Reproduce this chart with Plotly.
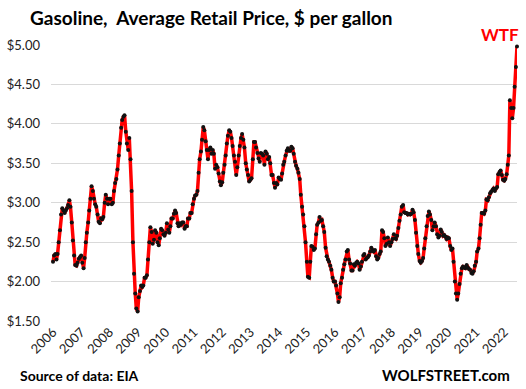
import pandas as pd
import plotly.graph_objects as go

# Semi-monthly readings (1st and 15th of each month), $ per gallon
p2006 = [2.25, 2.33, 2.35, 2.28, 2.35, 2.50, 2.65, 2.85, 2.93, 2.90, 2.87, 2.90, 2.93, 2.97, 3.03, 2.95, 2.75, 2.52, 2.33, 2.21, 2.20, 2.24, 2.29, 2.31]
p2007 = [2.33, 2.24, 2.17, 2.30, 2.50, 2.62, 2.75, 2.90, 3.05, 3.21, 3.15, 3.05, 2.98, 2.95, 2.85, 2.76, 2.74, 2.80, 2.79, 2.82, 3.00, 3.10, 3.05, 2.98]
p2008 = [3.05, 3.05, 2.98, 3.00, 3.15, 3.25, 3.30, 3.42, 3.60, 3.75, 3.95, 4.05, 4.09, 4.11, 3.90, 3.75, 3.67, 3.82, 3.55, 3.15, 2.50, 2.10, 1.85, 1.66]
p2009 = [1.62, 1.80, 1.88, 1.95, 1.93, 1.95, 2.05, 2.05, 2.08, 2.28, 2.50, 2.69, 2.63, 2.48, 2.53, 2.65, 2.62, 2.50, 2.46, 2.55, 2.67, 2.65, 2.60, 2.58]
p2010 = [2.62, 2.74, 2.66, 2.62, 2.70, 2.80, 2.80, 2.86, 2.90, 2.87, 2.74, 2.70, 2.74, 2.72, 2.75, 2.75, 2.67, 2.70, 2.70, 2.80, 2.80, 2.87, 2.87, 2.98]
p2011 = [3.05, 3.09, 3.10, 3.15, 3.38, 3.55, 3.65, 3.80, 3.96, 3.92, 3.78, 3.67, 3.55, 3.67, 3.70, 3.62, 3.67, 3.62, 3.43, 3.48, 3.45, 3.37, 3.27, 3.22]
p2012 = [3.26, 3.38, 3.48, 3.60, 3.75, 3.85, 3.92, 3.90, 3.82, 3.72, 3.60, 3.52, 3.35, 3.45, 3.60, 3.72, 3.82, 3.87, 3.80, 3.70, 3.50, 3.42, 3.35, 3.27]
p2013 = [3.29, 3.31, 3.55, 3.77, 3.77, 3.70, 3.63, 3.56, 3.52, 3.63, 3.62, 3.60, 3.48, 3.65, 3.62, 3.55, 3.58, 3.50, 3.35, 3.35, 3.25, 3.19, 3.25, 3.23]
p2014 = [3.32, 3.30, 3.29, 3.37, 3.48, 3.52, 3.60, 3.66, 3.69, 3.66, 3.66, 3.71, 3.69, 3.62, 3.52, 3.47, 3.43, 3.38, 3.30, 3.10, 2.95, 2.85, 2.70, 2.50]
p2015 = [2.25, 2.06, 2.05, 2.25, 2.45, 2.44, 2.40, 2.42, 2.60, 2.72, 2.75, 2.82, 2.77, 2.78, 2.70, 2.63, 2.43, 2.32, 2.28, 2.25, 2.20, 2.15, 2.05, 2.00]
p2016 = [2.00, 1.95, 1.85, 1.74, 1.80, 1.98, 2.05, 2.15, 2.22, 2.28, 2.38, 2.40, 2.28, 2.23, 2.14, 2.14, 2.22, 2.20, 2.24, 2.25, 2.23, 2.15, 2.19, 2.25]
p2017 = [2.33, 2.35, 2.28, 2.30, 2.31, 2.33, 2.38, 2.43, 2.40, 2.38, 2.40, 2.32, 2.28, 2.30, 2.35, 2.38, 2.65, 2.63, 2.55, 2.45, 2.48, 2.56, 2.50, 2.45]
p2018 = [2.50, 2.54, 2.60, 2.55, 2.54, 2.58, 2.68, 2.77, 2.85, 2.95, 2.97, 2.88, 2.87, 2.87, 2.85, 2.86, 2.85, 2.86, 2.91, 2.88, 2.78, 2.62, 2.45, 2.35]
p2019 = [2.26, 2.24, 2.26, 2.30, 2.42, 2.55, 2.70, 2.83, 2.89, 2.85, 2.78, 2.65, 2.70, 2.75, 2.70, 2.60, 2.56, 2.58, 2.66, 2.63, 2.58, 2.59, 2.57, 2.54]
p2020 = [2.56, 2.55, 2.45, 2.40, 2.42, 2.25, 2.00, 1.85, 1.77, 1.85, 1.97, 2.10, 2.17, 2.19, 2.18, 2.17, 2.21, 2.18, 2.16, 2.15, 2.11, 2.10, 2.13, 2.20]
p2021 = [2.25, 2.38, 2.42, 2.55, 2.72, 2.87, 2.87, 2.86, 2.90, 3.04, 3.03, 3.07, 3.12, 3.14, 3.16, 3.18, 3.15, 3.18, 3.20, 3.36, 3.39, 3.41, 3.35, 3.29]
p2022 = [3.28, 3.30, 3.36, 3.48, 3.60, 4.30, 4.20, 4.07, 4.20, 4.47, 4.72, 4.98]

prices = (p2006 + p2007 + p2008 + p2009 + p2010 + p2011 + p2012 + p2013 + p2014
          + p2015 + p2016 + p2017 + p2018 + p2019 + p2020 + p2021 + p2022)
dates = pd.date_range("2006-01-01", periods=len(prices), freq="SMS")

year_ticks = [f"{y}-01-01" for y in range(2006, 2023)]
year_labels = [str(y) for y in range(2006, 2023)]
y_ticks = [1.5, 2.0, 2.5, 3.0, 3.5, 4.0, 4.5, 5.0]
y_labels = ["$1.50", "$2.00", "$2.50", "$3.00", "$3.50", "$4.00", "$4.50", "$5.00"]

FONT = "Lato"

fig = go.Figure()
fig.add_trace(go.Scatter(
    x=dates, y=prices, mode="lines+markers",
    line=dict(color="#ff0000", width=3.5),
    marker=dict(color="#111111", size=4),
    cliponaxis=False, showlegend=False, hoverinfo="skip",
))

L, R, T, B = 51, 9, 45, 68
W, H = 526, 389
pw, ph = W - L - R, H - T - B

def px(x):
    return (x - L) / pw

def py(y):
    return (H - B - y) / ph

fig.update_layout(
    width=W, height=H,
    margin=dict(l=L, r=R, t=T, b=B, pad=0, autoexpand=False),
    paper_bgcolor="white", plot_bgcolor="white",
    font=dict(family=FONT, color="#222222"),
    xaxis=dict(
        type="date",
        range=["2005-12-06", "2022-06-15"],
        tickmode="array", tickvals=year_ticks, ticktext=year_labels,
        tickangle=-45, automargin=False,
        tickfont=dict(size=13, color="#222222"),
        showgrid=False, zeroline=False, showline=False, ticks="",
    ),
    yaxis=dict(
        range=[1.5, 5.0], tickvals=y_ticks, ticktext=y_labels,
        tickfont=dict(size=13, color="#222222"), automargin=False,
        showgrid=True, gridcolor="#d9d9d9", gridwidth=1,
        zeroline=False, showline=False, ticks="", ticklabelstandoff=10,
    ),
    annotations=[
        dict(text="<b>Gasoline,  Average Retail Price, $ per gallon</b>",
             x=px(28), y=py(17), xref="paper", yref="paper",
             xanchor="left", yanchor="middle", showarrow=False,
             font=dict(family=FONT, size=19, color="#000000")),
        dict(text="<b>WTF</b>", x=px(521), y=py(34), xref="paper", yref="paper",
             xanchor="right", yanchor="middle", showarrow=False,
             font=dict(family=FONT, size=17, color="#ff0000")),
        dict(text="<b>Source of data: EIA</b>", x=px(18), y=py(375),
             xref="paper", yref="paper", xanchor="left", yanchor="middle",
             showarrow=False, font=dict(family=FONT, size=14, color="#000000")),
        dict(text="<b>WOLFSTREET.com</b>", x=px(512), y=py(375),
             xref="paper", yref="paper", xanchor="right", yanchor="middle",
             showarrow=False, font=dict(family=FONT, size=15, color="#000000")),
    ],
)

fig.write_html("out.html", config={"displayModeBar": False},
               post_script="document.body.style.margin='0';document.body.style.padding='0';")
